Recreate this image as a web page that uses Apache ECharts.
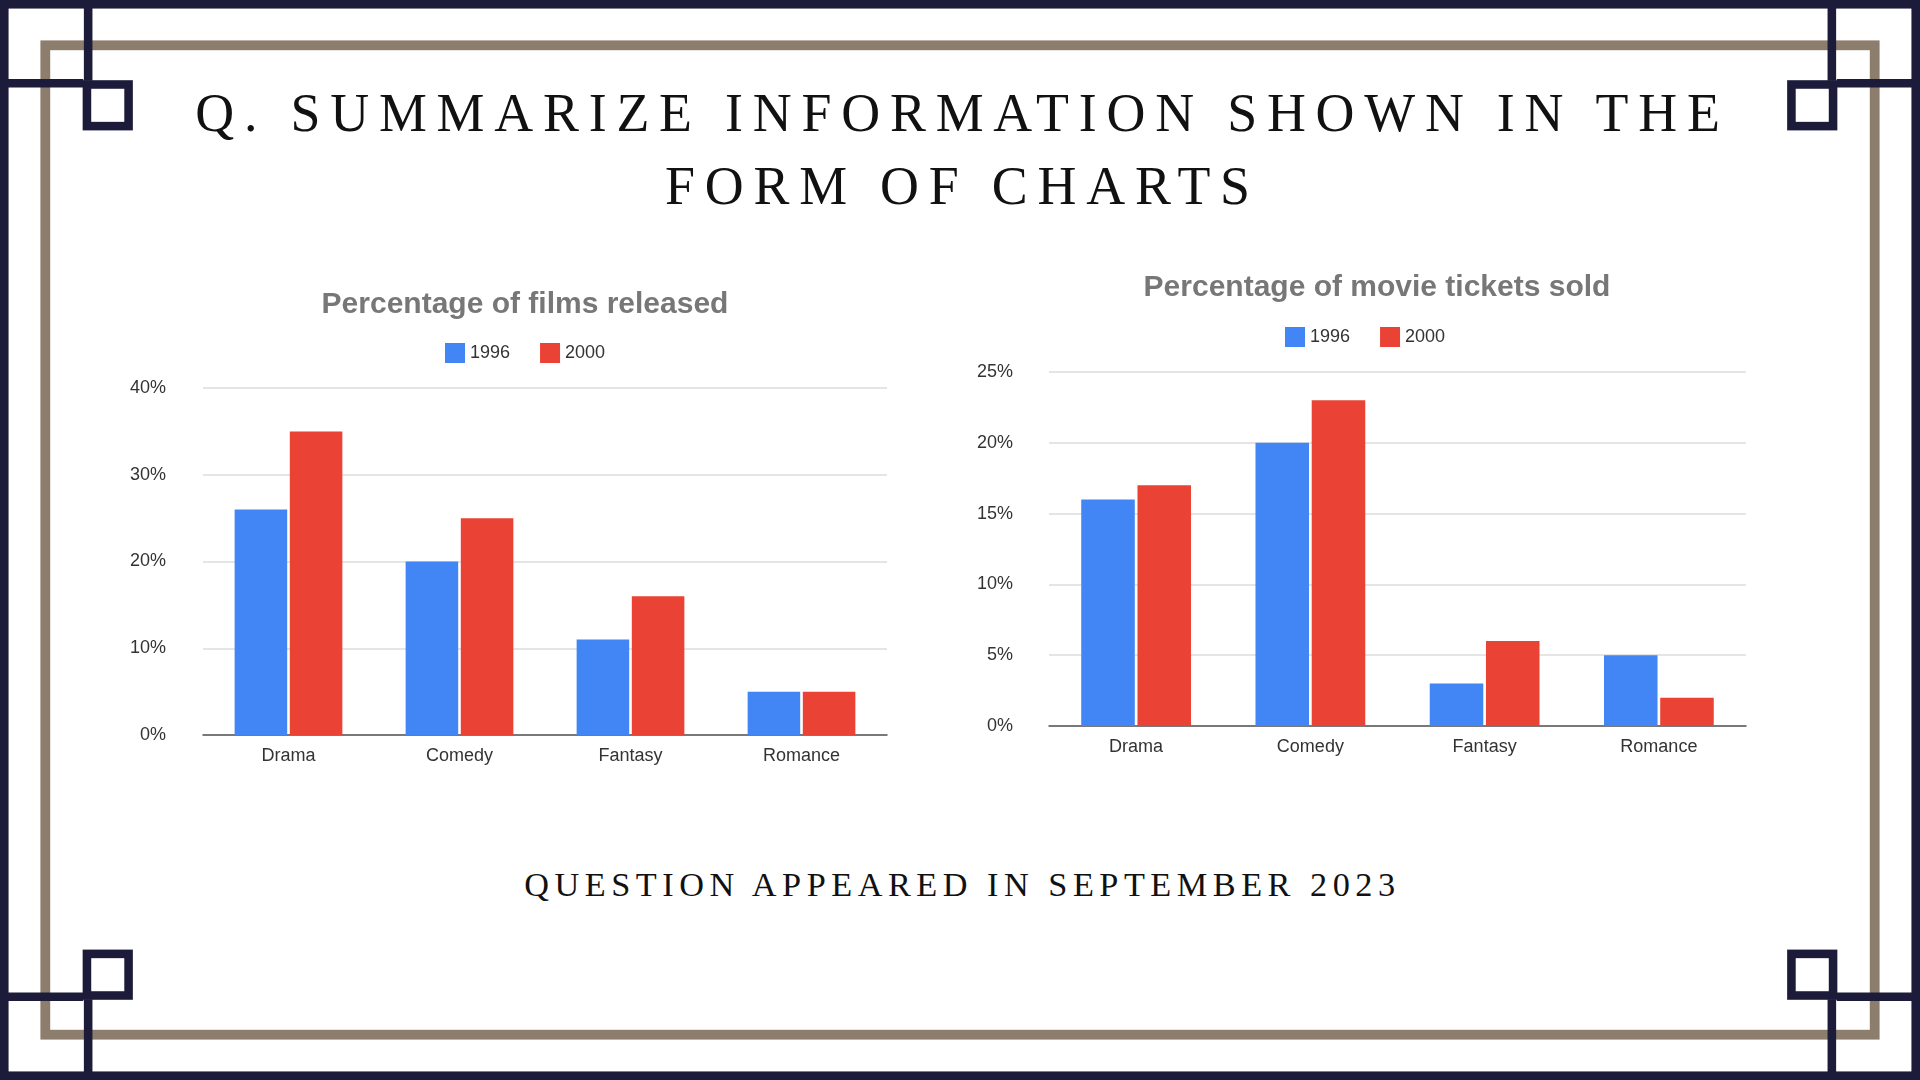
<!DOCTYPE html>
<html><head><meta charset="utf-8">
<script src="https://cdn.jsdelivr.net/npm/echarts@6/dist/echarts.min.js"></script>
<style>html,body{margin:0;padding:0;background:#fff;}#wrap{position:relative;width:1920px;height:1080px;}
#deco{position:absolute;left:0;top:0;}#chart{position:absolute;left:0;top:0;width:1920px;height:1080px;}</style>
</head><body><div id="wrap">
<svg id="deco" width="1920" height="1080" viewBox="0 0 1568 882">
<rect x="3.5" y="3.5" width="1561" height="875" fill="none" stroke="#1c1c3a" stroke-width="7"/>
<rect x="37" y="37" width="1494" height="808" fill="none" stroke="#8d7d6d" stroke-width="8"/>
<g fill="none" stroke="#1c1c3a" stroke-width="7">
<path d="M72 0V66M0 68H68"/><rect x="71" y="69" width="34" height="34"/>
<path d="M1496 0V66M1568 68H1500"/><rect x="1463" y="69" width="34" height="34"/>
<path d="M72 882V816M0 814H68"/><rect x="71" y="779" width="34" height="34"/>
<path d="M1496 882V816M1568 814H1500"/><rect x="1463" y="779" width="34" height="34"/>
</g>
<g font-family="Liberation Serif, DejaVu Serif, serif" fill="#111" text-anchor="middle">
<text x="786" y="107" font-size="44" letter-spacing="8">Q. SUMMARIZE INFORMATION SHOWN IN THE</text>
<text x="786" y="167" font-size="44" letter-spacing="8">FORM OF CHARTS</text>
<text x="786" y="732" font-size="28" letter-spacing="4.5">QUESTION APPEARED IN SEPTEMBER 2023</text>
</g>
</svg>
<div id="chart"></div></div>
<script>
const categories=['Drama','Comedy','Fantasy','Romance'];
const films1996=[26,20,11,5];
const films2000=[35,25,16,5];
const tickets1996=[16,20,3,5];
const tickets2000=[17,23,6,2];
const c=echarts.init(document.getElementById('chart'));
const ttl={fontSize:30,fontWeight:'bold',color:'#777',fontFamily:'Liberation Sans, Arial'};
const lab={fontSize:18,color:'#333',fontFamily:'Liberation Sans, Arial'};
function yAx(i,max,intv,m){return {type:'value',gridIndex:i,min:0,max:max,interval:intv,axisLabel:Object.assign({formatter:'{value}%',margin:m},lab),splitLine:{lineStyle:{color:'#ddd',width:1.5}},axisLine:{show:false},axisTick:{show:false}};}
function xAx(i){return {type:'category',gridIndex:i,data:categories,axisLabel:Object.assign({margin:12},lab),axisLine:{lineStyle:{color:'#555',width:1.5}},axisTick:{show:false}};}
function bar(name,data,i,color){return {name:name,type:'bar',xAxisIndex:i,yAxisIndex:i,data:data,itemStyle:{color:color},barGap:'5%',barCategoryGap:'37%'};}
c.setOption({animation:false,
title:[{text:'Percentage of films released',left:520,top:285,textAlign:'center',textStyle:ttl},
{text:'Percentage of movie tickets sold',left:1372,top:268,textAlign:'center',textStyle:ttl}],
legend:[{data:['1996','2000'],left:440,top:338,itemWidth:20,itemHeight:20,itemGap:30,icon:'rect',textStyle:lab},
{data:['1996','2000'],left:1280,top:322,itemWidth:20,itemHeight:20,itemGap:30,icon:'rect',textStyle:lab}],
grid:[{left:203,right:1920-887,top:388,bottom:1080-735},{left:1049,right:1920-1746,top:372,bottom:1080-726}],
xAxis:[xAx(0),xAx(1)],yAxis:[yAx(0,40,10,37),yAx(1,25,5,36)],
series:[bar('1996',films1996,0,'#4285f4'),bar('2000',films2000,0,'#ea4335'),
bar('1996',tickets1996,1,'#4285f4'),bar('2000',tickets2000,1,'#ea4335')]});
</script></body></html>
